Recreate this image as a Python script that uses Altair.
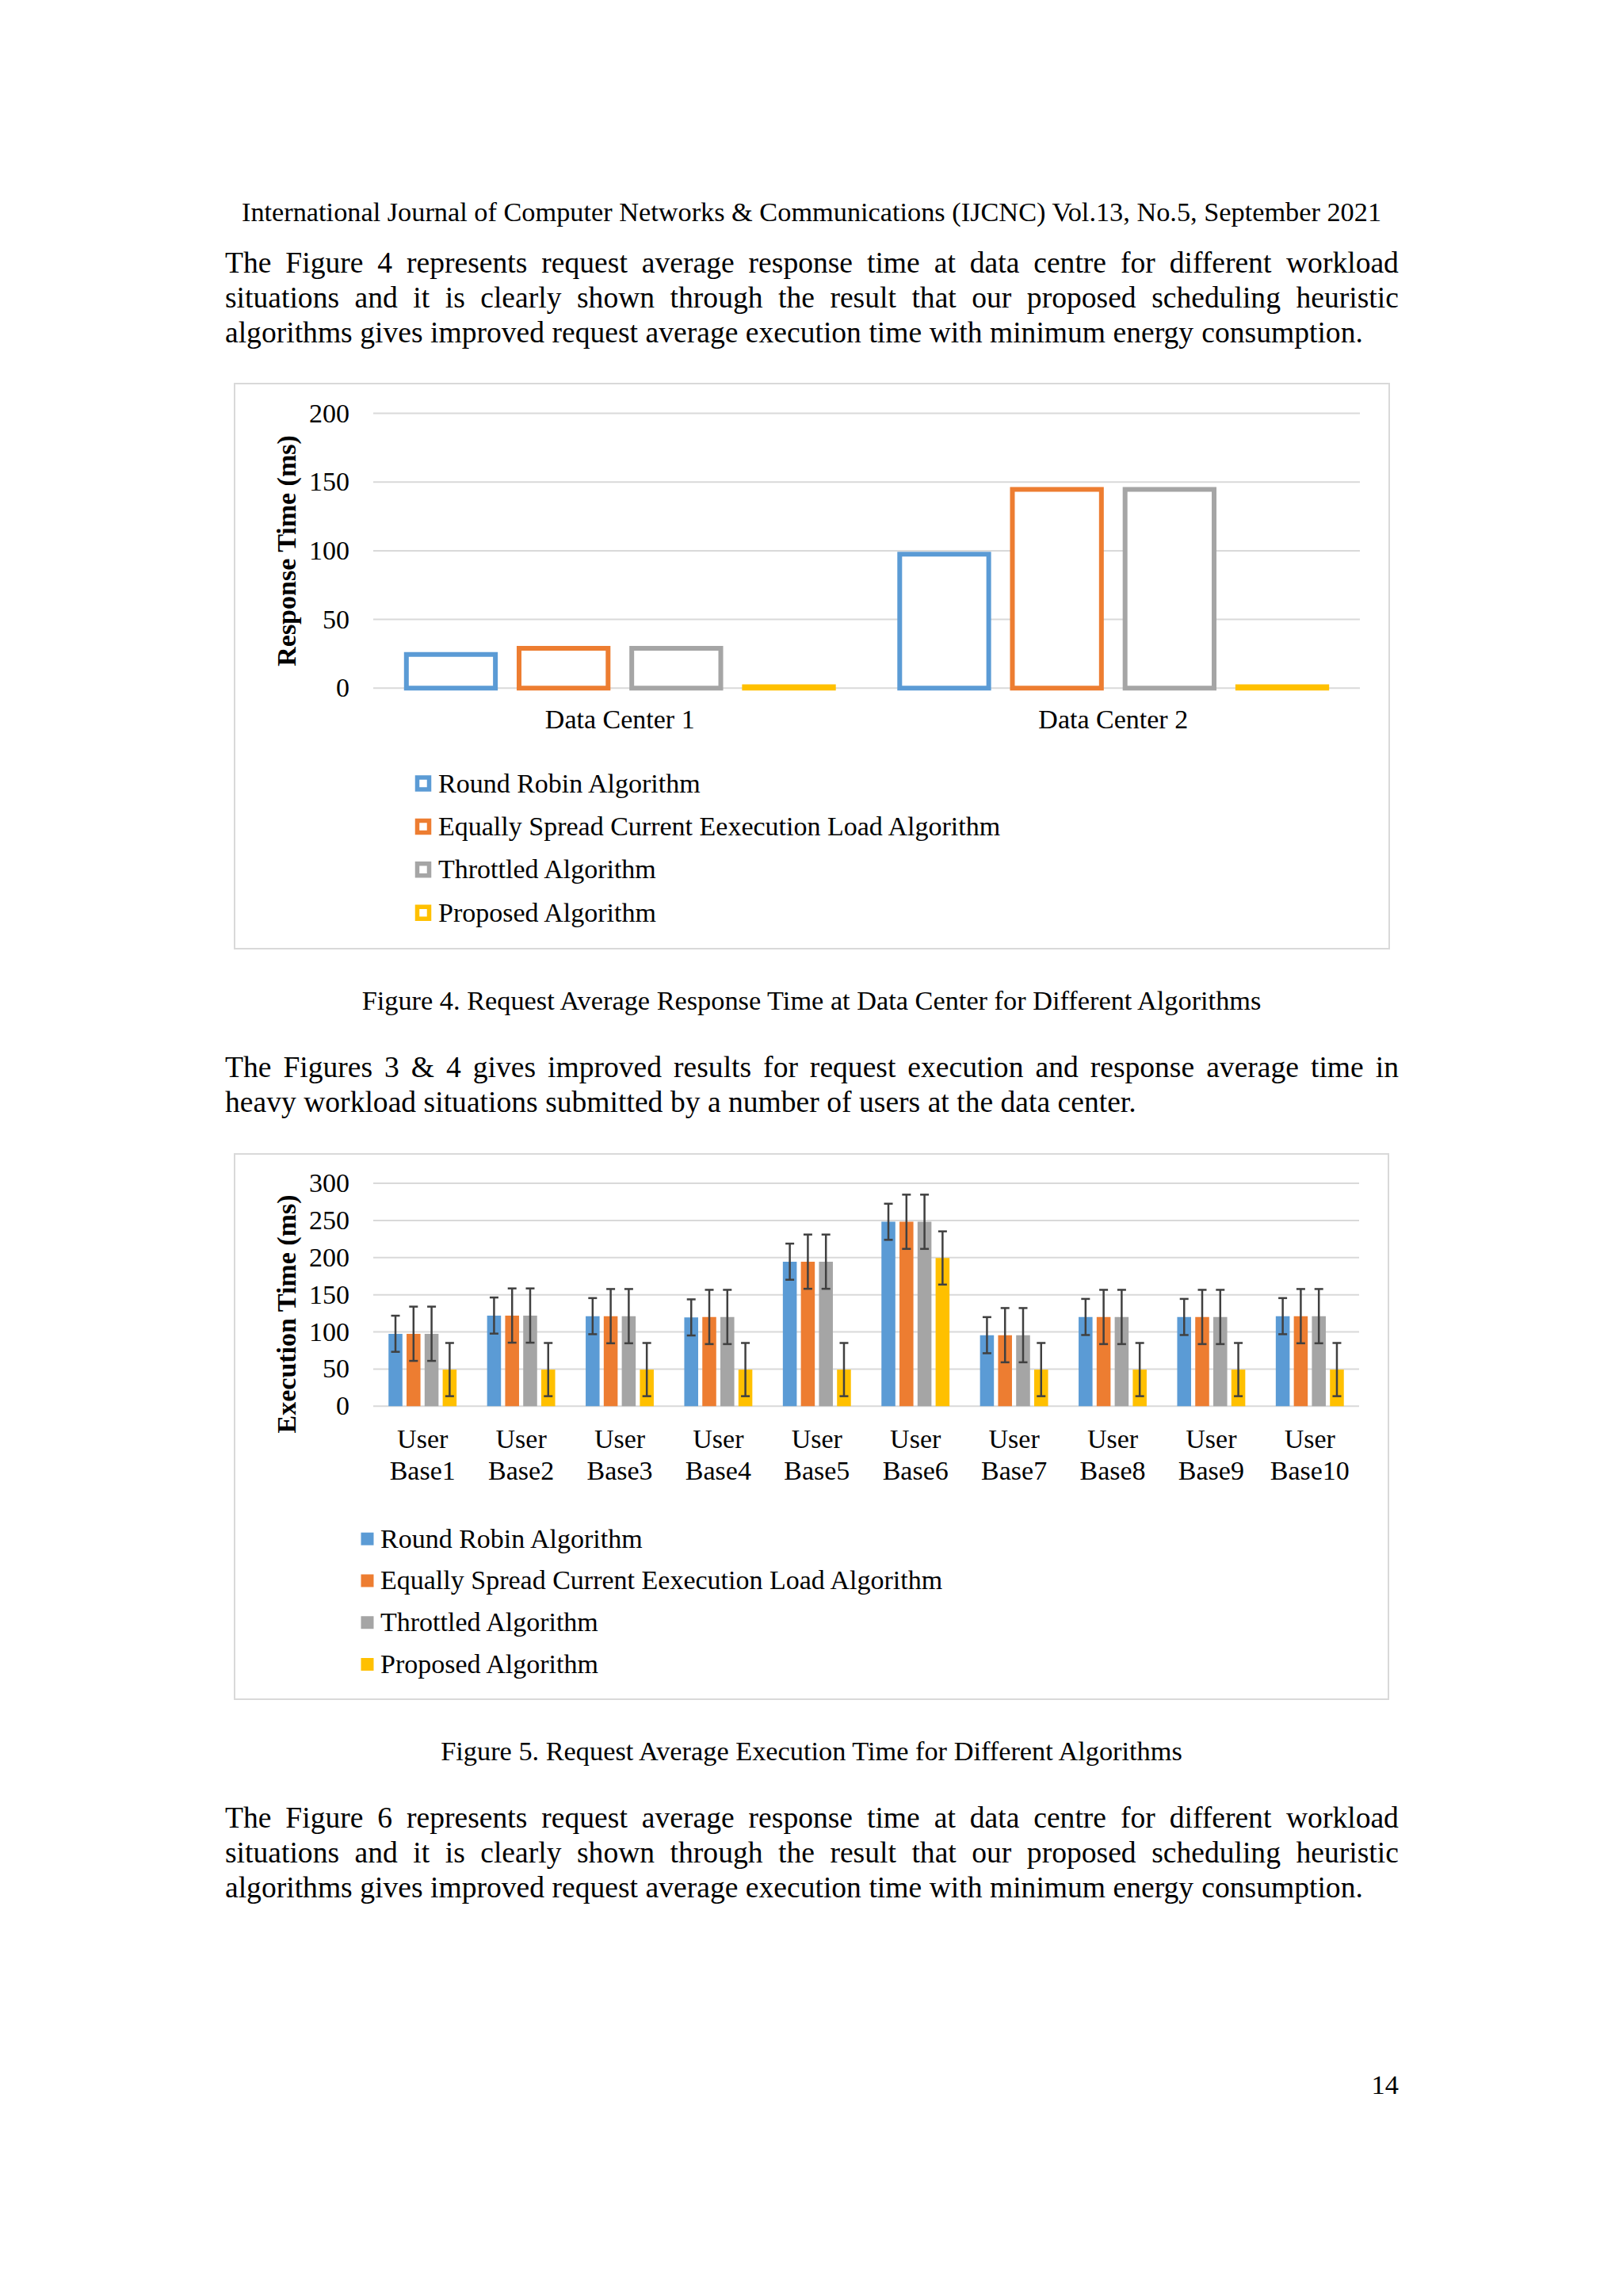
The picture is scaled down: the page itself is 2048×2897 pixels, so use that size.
import altair as alt
import pandas as pd

# ------------------------------------------------------------------ data
series = ["Round Robin Algorithm",
          "Equally Spread Current Eexecution Load Algorithm",
          "Throttled Algorithm",
          "Proposed Algorithm"]
colors = ["#5B9BD5", "#ED7D31", "#A5A5A5", "#FFC000"]

# Figure 4 : response time (ms)
dc_names = ["Data Center 1", "Data Center 2"]
resp_rr = [24.5, 97.5]
resp_escel = [29.0, 144.6]
resp_throttled = [29.0, 144.6]
resp_proposed = [1.0, 1.0]
resp_ticks = [0, 50, 100, 150, 200]

# Figure 5 : execution time (ms)
ub_names = ["User Base1", "User Base2", "User Base3", "User Base4", "User Base5",
            "User Base6", "User Base7", "User Base8", "User Base9", "User Base10"]
exec_rr = [97.5, 122.0, 121.2, 119.5, 194.5, 248.2, 95.6, 120.1, 120.1, 121.2]
exec_escel = [97.5, 122.0, 121.2, 120.1, 194.5, 248.2, 95.6, 120.1, 120.1, 121.2]
exec_throttled = [97.5, 122.0, 121.2, 120.1, 194.5, 248.2, 95.6, 120.1, 120.1, 121.2]
exec_proposed = [49.3, 49.3, 49.3, 49.3, 49.3, 199.5, 49.3, 49.3, 49.3, 49.3]
exec_err = [24.3, 36.5, 36.5, 35.8]
exec_ticks = [0, 50, 100, 150, 200, 250, 300]

resp_title = "Response Time (ms)"
exec_title = "Execution Time (ms)"

header = ("International Journal of Computer Networks & Communications (IJCNC) "
          "Vol.13, No.5, September 2021")
para1 = ["The Figure 4 represents request average response time at data centre for different workload",
         "situations and it is clearly shown through the result that our proposed scheduling heuristic",
         "algorithms gives improved request average execution time with minimum energy consumption."]
caption4 = "Figure 4. Request Average Response Time at Data Center for Different Algorithms"
para2 = ["The Figures 3 & 4 gives improved results for request execution and response average time in",
         "heavy workload situations submitted by a number of users at the data center."]
caption5 = "Figure 5. Request Average Execution Time for Different Algorithms"
para3 = ["The Figure 6 represents request average response time at data centre for different workload",
         "situations and it is clearly shown through the result that our proposed scheduling heuristic",
         "algorithms gives improved request average execution time with minimum energy consumption."]
page_no = "14"

# ------------------------------------------------------------------ layout helpers
FONT = "Liberation Serif"
M = 8  # page margin


def px(v):
    return v - M


EMW = {' ': .25, '.': .25, ',': .25, '&': .778, '(': .333, ')': .333, '-': .333}
for c, w in zip("abcdefghijklmnopqrstuvwxyz",
                [.444, .5, .444, .5, .444, .333, .5, .5, .278, .278, .5, .278, .778,
                 .5, .5, .5, .5, .333, .389, .278, .5, .5, .722, .5, .5, .444]):
    EMW[c] = w
for c, w in zip("ABCDEFGHIJKLMNOPQRSTUVWXYZ",
                [.722, .667, .667, .722, .611, .556, .722, .722, .333, .389, .722, .611, .889,
                 .722, .722, .556, .722, .667, .556, .611, .722, .722, .944, .722, .722, .611]):
    EMW[c] = w


def em(s):
    return sum(EMW.get(c, 0.5) for c in s)


BODY_FS = 37.6
LEFT, RIGHT = 284, 1765
HEADER_FS = 1444 / em(header)
CAP_FS = 1144 / em(caption4)
CHART_FS = 34


def body_words(lines, baselines):
    rows = []
    for i, (line, yb) in enumerate(zip(lines, baselines)):
        words = line.split(" ")
        if i < len(lines) - 1 and len(words) > 1:
            tot = sum(em(w) for w in words) * BODY_FS
            gap = (RIGHT - LEFT - tot) / (len(words) - 1)
        else:
            gap = em(" ") * BODY_FS
        x = LEFT
        for w in words:
            rows.append({"t": w, "x": px(x), "y": px(yb)})
            x += em(w) * BODY_FS + gap
    return rows


words = (body_words(para1, [344, 388, 432])
         + body_words(para2, [1358.5, 1402.5])
         + body_words(para3, [2306, 2350, 2394]))
words_df = pd.DataFrame(words)

one = pd.DataFrame({"k": [0]})

body = alt.Chart(words_df).mark_text(
    align="left", baseline="alphabetic", font=FONT, fontSize=BODY_FS, color="black"
).encode(
    x=alt.X("x:Q", scale=None, axis=None),
    y=alt.Y("y:Q", scale=None, axis=None),
    text="t:N",
)

centered_df = pd.DataFrame({
    "t": [header, caption4, caption5],
    "x": [px(1024), px(1024), px(1024)],
    "y": [px(279), px(1273.5), px(2221)],
    "fs": [HEADER_FS, CAP_FS, CAP_FS],
})
centered = alt.Chart(centered_df).mark_text(
    align="center", baseline="alphabetic", font=FONT, color="black"
).encode(
    x=alt.X("x:Q", scale=None, axis=None),
    y=alt.Y("y:Q", scale=None, axis=None),
    text="t:N",
    size=alt.Size("fs:Q", scale=None, legend=None),
)

pageno = alt.Chart(one).mark_text(
    align="right", baseline="alphabetic", font=FONT, fontSize=34.4, color="black"
).encode(x=alt.value(px(1765)), y=alt.value(px(2642)), text=alt.value(page_no))

frame4 = alt.Chart(one).mark_rect(filled=False, stroke="#D9D9D9", strokeWidth=2).encode(
    x=alt.value(px(296)), x2=alt.value(px(1753)), y=alt.value(px(484)), y2=alt.value(px(1197)))
frame5 = alt.Chart(one).mark_rect(filled=False, stroke="#D9D9D9", strokeWidth=2).encode(
    x=alt.value(px(296)), x2=alt.value(px(1752)), y=alt.value(px(1456)), y2=alt.value(px(2144)))

# ------------------------------------------------------------------ Figure 4
df4 = pd.DataFrame(
    [{"cat": c, "series": s, "value": v}
     for s, vals in zip(series, [resp_rr, resp_escel, resp_throttled, resp_proposed])
     for c, v in zip(dc_names, vals)]
)
xs4 = alt.Scale(domain=dc_names, range=[px(471), px(1716)], paddingInner=0, paddingOuter=0)
ys4 = alt.Scale(domain=[0, 200], range=[px(868.3), px(521.5)], nice=False, zero=False)
xo4 = alt.XOffset("series:N", scale=alt.Scale(domain=series, paddingInner=0.21, paddingOuter=0.294))

grid4 = alt.Chart(pd.DataFrame({"value": resp_ticks})).mark_rule(
    color="#D9D9D9", strokeWidth=2
).encode(y=alt.Y("value:Q", scale=ys4, axis=None), x=alt.value(px(471)), x2=alt.value(px(1716)))

bars4 = alt.Chart(df4).mark_bar(fill="white", strokeWidth=6, strokeJoin="miter").encode(
    x=alt.X("cat:N", scale=xs4, axis=None),
    xOffset=xo4,
    y=alt.Y("value:Q", scale=ys4, axis=None),
    stroke=alt.Stroke("series:N", scale=alt.Scale(domain=series, range=colors), legend=None),
)

ticks4 = alt.Chart(pd.DataFrame({"value": resp_ticks})).mark_text(
    align="right", baseline="middle", font=FONT, fontSize=CHART_FS, color="black", dy=1
).encode(y=alt.Y("value:Q", scale=ys4, axis=None), x=alt.value(px(441)), text=alt.Text("value:Q", format="d"))

cats4 = alt.Chart(pd.DataFrame({"cat": dc_names})).mark_text(
    align="center", baseline="alphabetic", font=FONT, fontSize=CHART_FS, color="black"
).encode(x=alt.X("cat:N", scale=xs4, axis=None), y=alt.value(px(919)), text="cat:N")

fig4 = alt.layer(grid4, bars4, ticks4, cats4)

title4 = alt.Chart(one).mark_text(
    angle=270, align="center", baseline="middle", font=FONT, fontSize=CHART_FS,
    fontWeight="bold", color="black"
).encode(x=alt.value(px(363)), y=alt.value(px(695)), text=alt.value(resp_title))

leg4_df = pd.DataFrame({"series": series})
leg4_y = alt.Y("series:N", scale=alt.Scale(domain=series, range=[px(988.5), px(1151.8)], padding=0), axis=None)
leg4_sq = alt.Chart(leg4_df).mark_square(size=225, fill="white", fillOpacity=1, strokeWidth=5.5, opacity=1,
                                         strokeJoin="miter").encode(
    y=leg4_y, x=alt.value(px(534)),
    stroke=alt.Stroke("series:N", scale=alt.Scale(domain=series, range=colors), legend=None))
leg4_tx = alt.Chart(leg4_df).mark_text(
    align="left", baseline="middle", font=FONT, fontSize=CHART_FS, color="black", dy=1
).encode(y=leg4_y, x=alt.value(px(553)), text="series:N")
legend4 = alt.layer(leg4_sq, leg4_tx)

# ------------------------------------------------------------------ Figure 5
rows5 = []
for s, vals, e in zip(series, [exec_rr, exec_escel, exec_throttled, exec_proposed], exec_err):
    for c, v in zip(ub_names, vals):
        rows5.append({"cat": c, "series": s, "value": v, "lo": v - e, "hi": v + e})
df5 = pd.DataFrame(rows5)

xs5 = alt.Scale(domain=ub_names, range=[px(471), px(1715)], paddingInner=0, paddingOuter=0)
ys5 = alt.Scale(domain=[0, 300], range=[px(1774.3), px(1493)], nice=False, zero=False)
xo5 = alt.XOffset("series:N", scale=alt.Scale(domain=series, paddingInner=0.23, paddingOuter=0.845))
x5 = alt.X("cat:N", scale=xs5, axis=None)

grid5 = alt.Chart(pd.DataFrame({"value": exec_ticks})).mark_rule(
    color="#D9D9D9", strokeWidth=2
).encode(y=alt.Y("value:Q", scale=ys5, axis=None), x=alt.value(px(471)), x2=alt.value(px(1715)))

bars5 = alt.Chart(df5).mark_bar().encode(
    x=x5, xOffset=xo5,
    y=alt.Y("value:Q", scale=ys5, axis=None),
    fill=alt.Fill("series:N", scale=alt.Scale(domain=series, range=colors), legend=None),
)

ERR_C = "#404040"
err5 = alt.Chart(df5).mark_rule(color=ERR_C, strokeWidth=2.5).encode(
    x=x5, xOffset=xo5, y=alt.Y("lo:Q", scale=ys5, axis=None), y2="hi:Q")
caph5 = alt.Chart(df5).mark_tick(color=ERR_C, thickness=2.5, size=11, orient="horizontal", opacity=1).encode(
    x=x5, xOffset=xo5, y=alt.Y("hi:Q", scale=ys5, axis=None))
capl5 = alt.Chart(df5).mark_tick(color=ERR_C, thickness=2.5, size=11, orient="horizontal", opacity=1).encode(
    x=x5, xOffset=xo5, y=alt.Y("lo:Q", scale=ys5, axis=None))

ticks5 = alt.Chart(pd.DataFrame({"value": exec_ticks})).mark_text(
    align="right", baseline="middle", font=FONT, fontSize=CHART_FS, color="black", dy=1
).encode(y=alt.Y("value:Q", scale=ys5, axis=None), x=alt.value(px(441)), text=alt.Text("value:Q", format="d"))

cats5_base = alt.Chart(pd.DataFrame({"cat": ub_names})).transform_calculate(
    l1="split(datum.cat, ' ')[0]", l2="split(datum.cat, ' ')[1]")
cats5a = cats5_base.mark_text(
    align="center", baseline="alphabetic", font=FONT, fontSize=CHART_FS, color="black"
).encode(x=x5, y=alt.value(px(1826.7)), text="l1:N")
cats5b = cats5_base.mark_text(
    align="center", baseline="alphabetic", font=FONT, fontSize=CHART_FS, color="black"
).encode(x=x5, y=alt.value(px(1867.3)), text="l2:N")

fig5 = alt.layer(grid5, bars5, err5, caph5, capl5, ticks5, cats5a, cats5b)

title5 = alt.Chart(one).mark_text(
    angle=270, align="center", baseline="middle", font=FONT, fontSize=CHART_FS,
    fontWeight="bold", color="black"
).encode(x=alt.value(px(363)), y=alt.value(px(1658)), text=alt.value(exec_title))

leg5_df = pd.DataFrame({"series": series})
leg5_y = alt.Y("series:N", scale=alt.Scale(domain=series, range=[px(1941.7), px(2100)], padding=0), axis=None)
leg5_sq = alt.Chart(leg5_df).mark_square(size=256, opacity=1, strokeWidth=0).encode(
    y=leg5_y, x=alt.value(px(463.5)),
    fill=alt.Fill("series:N", scale=alt.Scale(domain=series, range=colors), legend=None))
leg5_tx = alt.Chart(leg5_df).mark_text(
    align="left", baseline="middle", font=FONT, fontSize=CHART_FS, color="black", dy=1
).encode(y=leg5_y, x=alt.value(px(480)), text="series:N")
legend5 = alt.layer(leg5_sq, leg5_tx)

# ------------------------------------------------------------------ page
chart = alt.layer(
    frame4, frame5, body, centered, pageno,
    fig4, title4, legend4,
    fig5, title5, legend5,
).resolve_scale(
    x="independent", y="independent", xOffset="independent",
    stroke="independent", fill="independent",
).properties(
    width=2032, height=2872,
    autosize=alt.AutoSizeParams(type="none"),
    padding=0,
    background="white",
).configure_view(stroke=None, strokeWidth=0)

chart.save("out.html", embed_options={"renderer": "svg", "actions": False})
